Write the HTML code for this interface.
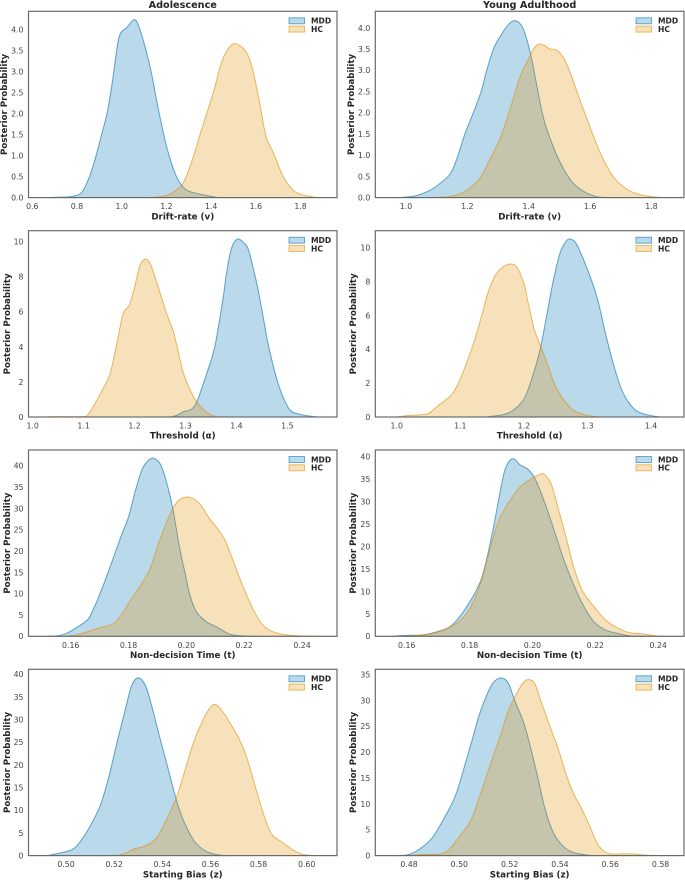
<!DOCTYPE html>
<html lang="en">
<head>
<meta charset="utf-8">
<title>Posterior Probability Densities</title>
<style>
  html, body { margin: 0; padding: 0; background: #fff; width: 685px; height: 880px; overflow: hidden; }
  svg { display: block; font-family: "DejaVu Sans", "Liberation Sans", sans-serif; filter: blur(0.35px); }
</style>
</head>
<body>
<svg id="chart" xmlns="http://www.w3.org/2000/svg" width="685" height="880" viewBox="0 0 685 880"></svg>
<script>
// ---- Series values: x sample (parameter value) and density pairs ----
const adoDriftMddX = [0.68,0.72,0.78,0.82,0.85,0.88,0.91,0.936,0.958,0.98,0.995,1.022,1.055,1.075,1.10,1.13,1.168,1.205,1.245,1.285,1.335,1.41,1.44];
const adoDriftMddY = [0,0.01,0.03,0.12,0.42,0.9,1.5,2.05,2.75,3.6,3.92,4.05,4.24,4.1,3.68,3.04,2.0,1.13,0.5,0.2,0.1,0.02,0];
const adoDriftHcX = [1.12,1.2,1.26,1.29,1.325,1.35,1.375,1.4,1.42,1.44,1.47,1.503,1.545,1.567,1.59,1.62,1.646,1.68,1.716,1.754,1.784,1.83,1.875];
const adoDriftHcY = [0,0.05,0.25,0.52,1.05,1.5,1.92,2.33,2.7,3.12,3.5,3.67,3.55,3.36,2.96,2.17,1.45,1.05,0.57,0.25,0.11,0.04,0];

const yaDriftMddX = [0.98,1.035,1.08,1.11,1.143,1.165,1.192,1.225,1.247,1.263,1.285,1.307,1.334,1.355,1.377,1.393,1.41,1.426,1.437,1.453,1.48,1.508,1.54,1.578,1.622,1.654];
const yaDriftMddY = [0,0.05,0.18,0.33,0.55,0.9,1.5,2.1,2.55,3.0,3.5,3.8,4.08,4.17,4.05,3.75,3.25,2.65,2.25,1.75,1.2,0.75,0.38,0.15,0.02,0];
const yaDriftHcX = [1.057,1.12,1.165,1.203,1.24,1.27,1.307,1.34,1.372,1.405,1.42,1.437,1.453,1.47,1.49,1.513,1.535,1.562,1.59,1.616,1.643,1.68,1.72,1.763,1.817,1.85];
const yaDriftHcY = [0,0.01,0.06,0.2,0.45,0.85,1.4,2.1,2.85,3.35,3.55,3.62,3.58,3.5,3.48,3.3,2.95,2.4,1.85,1.35,0.9,0.45,0.2,0.07,0.01,0];

const adoThreshMddX = [1.27,1.283,1.296,1.312,1.322,1.335,1.355,1.365,1.375,1.38,1.39,1.402,1.414,1.423,1.433,1.443,1.452,1.462,1.476,1.488,1.505,1.525,1.545,1.56];
const adoThreshMddY = [0,0.1,0.3,0.45,0.85,1.9,3.7,5.2,7.0,8.1,9.6,10.15,9.95,9.6,8.5,7.2,5.8,4.2,2.5,1.4,0.4,0.16,0.05,0];
const adoThreshHcX = [1.02,1.04,1.1,1.11,1.123,1.136,1.15,1.158,1.168,1.175,1.18,1.19,1.2,1.21,1.22,1.23,1.24,1.25,1.263,1.276,1.286,1.296,1.31,1.322,1.342,1.36,1.372];
const adoThreshHcY = [0,0.02,0.03,0.2,0.8,1.5,2.3,3.2,4.6,5.6,6.05,6.4,7.4,8.6,9.0,8.8,8.0,7.1,5.9,4.9,3.7,2.5,1.5,0.85,0.25,0.03,0];

const yaThreshMddX = [1.14,1.168,1.183,1.2,1.212,1.225,1.236,1.246,1.257,1.267,1.274,1.283,1.296,1.307,1.317,1.328,1.341,1.354,1.367,1.38,1.398,1.414];
const yaThreshMddY = [0,0.15,0.4,1.05,2.2,3.9,6,8,9.7,10.4,10.5,10.2,9.1,8.0,6.8,5.0,3.1,1.6,0.75,0.3,0.1,0];
const yaThreshHcX = [1.0,1.016,1.047,1.058,1.068,1.086,1.097,1.11,1.123,1.136,1.144,1.155,1.165,1.178,1.189,1.2,1.207,1.217,1.228,1.238,1.25,1.265,1.28,1.3,1.32];
const yaThreshHcY = [0,0.08,0.17,0.45,0.75,1.3,2.0,3.2,4.6,6.3,7.4,8.35,8.8,9.03,8.85,7.9,6.7,5.1,4.05,3.0,1.8,0.9,0.35,0.1,0];

const adoNdtMddX = [0.1517,0.155,0.1586,0.1626,0.166,0.168,0.171,0.1748,0.1777,0.18,0.1823,0.1846,0.1869,0.189,0.1913,0.1936,0.1953,0.1976,0.1995,0.2013,0.2036,0.207,0.211,0.215,0.2197,0.225];
const adoNdtMddY = [0,0.1,0.7,2.3,4.0,6.6,11.5,18.5,24,28,34,39,41.3,41.7,40,35,30,21,15,9.5,5.6,3.4,2,0.5,0.1,0];
const adoNdtHcX = [0.1575,0.1615,0.1655,0.17,0.1748,0.1777,0.181,0.1846,0.1875,0.19,0.193,0.1955,0.1978,0.2013,0.2047,0.2076,0.2105,0.2134,0.2163,0.2197,0.223,0.226,0.2295,0.2347,0.2416,0.246];
const adoNdtHcY = [0,0.3,1.0,2,3,5.2,8.8,12.4,16,21,26.5,30.2,32.1,32.6,31,28,25.5,22.5,17.5,11.5,6.5,3,1.2,0.3,0.05,0];

const yaNdtMddX = [0.155,0.1596,0.165,0.169,0.1735,0.177,0.181,0.1836,0.1857,0.1878,0.1894,0.191,0.1926,0.1942,0.196,0.1984,0.2005,0.2027,0.2048,0.2074,0.21,0.2128,0.2155,0.2192,0.2229,0.2267,0.231,0.2352];
const yaNdtMddY = [0,0.2,0.3,0.9,2,4.5,8.8,12.5,18,25,31,36.5,39,39.5,38.2,37.3,35.5,32,28,22.5,17,12,7.8,3.5,1.5,0.7,0.1,0];
const yaNdtHcX = [0.1585,0.164,0.1686,0.1735,0.177,0.1803,0.1836,0.1867,0.1894,0.1926,0.1957,0.199,0.2021,0.2037,0.2059,0.208,0.2107,0.2133,0.216,0.2197,0.2235,0.2272,0.231,0.2352,0.2395,0.242];
const yaNdtHcY = [0,0.25,0.7,2,3.5,6.5,12,20,26,30,33,34.8,36,36.1,34,29,22,15,10,6.5,3.5,1.8,0.8,0.55,0.05,0];

const adoBiasMddX = [0.492,0.496,0.5024,0.5058,0.51,0.5142,0.5176,0.5212,0.5245,0.5273,0.53,0.533,0.5356,0.539,0.5425,0.546,0.5494,0.5536,0.5584,0.564,0.568];
const adoBiasMddY = [0,0.4,1.3,3,6.5,11,17,25,32,37.5,39.2,37.5,33,26,19,12,7,3,0.9,0.1,0];
const adoBiasHcX = [0.514,0.5225,0.528,0.5335,0.5377,0.5418,0.546,0.5495,0.553,0.557,0.56,0.5623,0.5655,0.569,0.5717,0.575,0.5785,0.582,0.5855,0.59,0.5945,0.5986,0.604];
const adoBiasHcY = [0,0.15,1.4,2.3,4,8,13,19,25,30,32.7,33.3,31.5,28.5,26,21.8,15.5,9.3,4.7,2.9,1.2,0.25,0];

const yaBiasMddX = [0.475,0.4797,0.484,0.489,0.4937,0.4983,0.5016,0.505,0.508,0.5118,0.5142,0.517,0.5195,0.522,0.5255,0.528,0.531,0.5342,0.5375,0.5415,0.5454,0.5507,0.555];
const yaBiasMddY = [0,0.2,1.2,3.3,7,11.4,16.5,22.2,27.3,32,33.8,34.3,33.3,30,25.8,21.5,15.5,8.8,4.3,1.7,0.6,0.1,0];
const yaBiasHcX = [0.478,0.4857,0.4923,0.4956,0.499,0.5036,0.506,0.5095,0.513,0.5162,0.5195,0.523,0.5255,0.5277,0.53,0.5327,0.536,0.5394,0.5427,0.5454,0.5487,0.552,0.5553,0.5593,0.5653,0.5692,0.5745,0.581];
const yaBiasHcY = [0,0.2,0.3,1,3,6,8.5,13.5,18.5,23,28,31.5,33.5,34,33.2,29.5,25,20.5,15.3,12,9,5.5,2,0.4,0.35,0.3,0.1,0];

// ---- Tick labels ----
const adoDriftXTicks = ["0.6","0.8","1.0","1.2","1.4","1.6","1.8"];
const adoDriftYTicks = ["0.0","0.5","1.0","1.5","2.0","2.5","3.0","3.5","4.0"];
const yaDriftXTicks = ["1.0","1.2","1.4","1.6","1.8"];
const yaDriftYTicks = ["0.0","0.5","1.0","1.5","2.0","2.5","3.0","3.5","4.0"];
const adoThreshXTicks = ["1.0","1.1","1.2","1.3","1.4","1.5"];
const adoThreshYTicks = ["0","2","4","6","8","10"];
const yaThreshXTicks = ["1.0","1.1","1.2","1.3","1.4"];
const yaThreshYTicks = ["0","2","4","6","8","10"];
const adoNdtXTicks = ["0.16","0.18","0.20","0.22","0.24"];
const adoNdtYTicks = ["0","5","10","15","20","25","30","35","40"];
const yaNdtXTicks = ["0.16","0.18","0.20","0.22","0.24"];
const yaNdtYTicks = ["0","5","10","15","20","25","30","35","40"];
const adoBiasXTicks = ["0.50","0.52","0.54","0.56","0.58","0.60"];
const adoBiasYTicks = ["0","5","10","15","20","25","30","35","40"];
const yaBiasXTicks = ["0.48","0.50","0.52","0.54","0.56","0.58"];
const yaBiasYTicks = ["0","5","10","15","20","25","30","35"];

// ---- Panel definitions ----
const panels = [
  { id:"adolescence-drift", col:0, row:0, title:"Adolescence", xLabel:"Drift-rate (v)", xMin:0.583, xMax:1.963, yMax:4.44, ylx:4,
    mx:adoDriftMddX, my:adoDriftMddY, hx:adoDriftHcX, hy:adoDriftHcY, xt:adoDriftXTicks, yt:adoDriftYTicks },
  { id:"young-adulthood-drift", col:1, row:0, title:"Young Adulthood", xLabel:"Drift-rate (v)", xMin:0.9, xMax:1.906, yMax:4.39, ylx:351,
    mx:yaDriftMddX, my:yaDriftMddY, hx:yaDriftHcX, hy:yaDriftHcY, xt:yaDriftXTicks, yt:yaDriftYTicks },
  { id:"adolescence-threshold", col:0, row:1, xLabel:"Threshold (\u03b1)", xMin:0.9918, xMax:1.5975, yMax:10.63, ylx:7,
    mx:adoThreshMddX, my:adoThreshMddY, hx:adoThreshHcX, hy:adoThreshHcY, xt:adoThreshXTicks, yt:adoThreshYTicks },
  { id:"young-adulthood-threshold", col:1, row:1, xLabel:"Threshold (\u03b1)", xMin:0.9663, xMax:1.4519, yMax:11.0, ylx:353,
    mx:yaThreshMddX, my:yaThreshMddY, hx:yaThreshHcX, hy:yaThreshHcY, xt:yaThreshXTicks, yt:yaThreshYTicks },
  { id:"adolescence-non-decision", col:0, row:2, xLabel:"Non-decision Time (t)", xMin:0.1454, xMax:0.2521, yMax:43.7, ylx:7,
    mx:adoNdtMddX, my:adoNdtMddY, hx:adoNdtHcX, hy:adoNdtHcY, xt:adoNdtXTicks, yt:adoNdtYTicks },
  { id:"young-adulthood-non-decision", col:1, row:2, xLabel:"Non-decision Time (t)", xMin:0.15, xMax:0.2482, yMax:41.5, ylx:353,
    mx:yaNdtMddX, my:yaNdtMddY, hx:yaNdtHcX, hy:yaNdtHcY, xt:yaNdtXTicks, yt:yaNdtYTicks },
  { id:"adolescence-starting-bias", col:0, row:3, xLabel:"Starting Bias (z)", xMin:0.4844, xMax:0.6126, yMax:41.1, ylx:7,
    mx:adoBiasMddX, my:adoBiasMddY, hx:adoBiasHcX, hy:adoBiasHcY, xt:adoBiasXTicks, yt:adoBiasYTicks },
  { id:"young-adulthood-starting-bias", col:1, row:3, xLabel:"Starting Bias (z)", xMin:0.4666, xMax:0.5893, yMax:36, ylx:353,
    mx:yaBiasMddX, my:yaBiasMddY, hx:yaBiasHcX, hy:yaBiasHcY, xt:yaBiasXTicks, yt:yaBiasYTicks }
];

const SVGNS = "http://www.w3.org/2000/svg";
const root = document.getElementById("chart");
const MDD = "#0173b2", HC = "#de8f05", INK = "#444";

function mk(tag, parent, attrs, text) {
  const el = document.createElementNS(SVGNS, tag);
  for (const k in attrs) el.setAttribute(k, attrs[k]);
  if (text !== undefined) el.textContent = text;
  parent.appendChild(el);
  return el;
}

function smoothPath(xs, ys, sx, sy) {
  const p = xs.map((x, i) => [sx(x), sy(ys[i])]);
  let d = "M" + p[0][0].toFixed(2) + " " + p[0][1].toFixed(2);
  for (let i = 0; i < p.length - 1; i++) {
    const a = p[Math.max(i - 1, 0)], b = p[i], c = p[i + 1], e = p[Math.min(i + 2, p.length - 1)];
    const c1x = b[0] + (c[0] - a[0]) / 6, c2x = c[0] - (e[0] - b[0]) / 6;
    let c1y = b[1] + (c[1] - a[1]) / 6, c2y = c[1] - (e[1] - b[1]) / 6;
    const base = sy(0);
    c1y = Math.min(c1y, base); c2y = Math.min(c2y, base);
    d += "C" + c1x.toFixed(2) + " " + c1y.toFixed(2) + " " + c2x.toFixed(2) + " " + c2y.toFixed(2) + " " + c[0].toFixed(2) + " " + c[1].toFixed(2);
  }
  return d;
}

function drawSeries(g, xs, ys, sx, sy, color, label) {
  const line = smoothPath(xs, ys, sx, sy);
  const area = line + "L" + sx(xs[xs.length - 1]).toFixed(2) + " " + sy(0).toFixed(2) + "L" + sx(xs[0]).toFixed(2) + " " + sy(0).toFixed(2) + "Z";
  const fill = mk("path", g, { d: area, fill: color, "fill-opacity": 0.27, stroke: "none" });
  
  
  const stroke = mk("path", g, { d: line, fill: "none", stroke: color, "stroke-opacity": 0.62, "stroke-width": 1 });
  
  
}

panels.forEach(function (pn) {
  const left = pn.col === 0 ? 28.5 : 375.3;
  const right = pn.col === 0 ? 337 : 684;
  const top = [11.3, 230.7, 450, 669.3][pn.row];
  const bottom = top + 186.3;
  const sx = v => left + (v - pn.xMin) / (pn.xMax - pn.xMin) * (right - left);
  const sy = v => bottom - v / pn.yMax * (bottom - top);

  const g = mk("g", root, {});
  
  

  drawSeries(g, pn.mx, pn.my, sx, sy, MDD, pn.id + "-mdd");
  drawSeries(g, pn.hx, pn.hy, sx, sy, HC, pn.id + "-hc");

  const frame = mk("rect", g, { x: left, y: top, width: right - left, height: bottom - top, fill: "none", stroke: "#6a6a6a", "stroke-width": 1.2 });
  
  

  pn.xt.forEach(function (t) {
    const el = mk("text", g, { x: sx(parseFloat(t)), y: bottom + 11.5, "text-anchor": "middle", "font-size": 7.8, fill: INK }, t);
    
    
  });
  pn.yt.forEach(function (t) {
    const el = mk("text", g, { x: left - 5, y: sy(parseFloat(t)) + 2.9, "text-anchor": "end", "font-size": 7.8, fill: INK }, t);
    
    
  });

  const xl = mk("text", g, { x: (left + right) / 2, y: bottom + 21.7, "text-anchor": "middle", "font-size": 8.7, "font-weight": "bold", fill: "#262626" }, pn.xLabel);
  
  

  const cy = (top + bottom) / 2;
  const yl = mk("text", g, { x: pn.ylx + 3, y: cy, "text-anchor": "middle", "font-size": 8.65, "font-weight": "bold", fill: "#262626", transform: "rotate(-90 " + (pn.ylx + 3) + " " + cy + ")" }, "Posterior Probability");
  
  

  if (pn.title) {
    const tt = mk("text", g, { x: (left + right) / 2, y: 8, "text-anchor": "middle", "font-size": 9.7, "font-weight": "bold", fill: "#262626" }, pn.title);
    
    
  }

  const legend = mk("g", g, {});
  
  
  const lx = right - 48, ly = top + 6.5;
  const r1 = mk("rect", legend, { x: lx, y: ly, width: 15.5, height: 6, fill: MDD, "fill-opacity": 0.27, stroke: MDD, "stroke-opacity": 0.62, "stroke-width": 0.9 });
  
  
  const t1 = mk("text", legend, { x: lx + 22, y: ly + 5.8, "font-size": 7.6, "font-weight": "bold", fill: "#262626" }, "MDD");
  
  
  const r2 = mk("rect", legend, { x: lx, y: ly + 8.3, width: 15.5, height: 6, fill: HC, "fill-opacity": 0.27, stroke: HC, "stroke-opacity": 0.62, "stroke-width": 0.9 });
  
  
  const t2 = mk("text", legend, { x: lx + 22, y: ly + 14.1, "font-size": 7.6, "font-weight": "bold", fill: "#262626" }, "HC");
  
  
});
</script>
</body>
</html>
